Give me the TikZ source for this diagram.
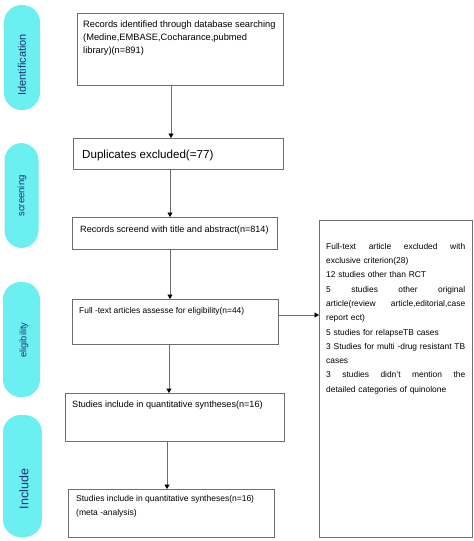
\documentclass[tikz,border=0pt]{standalone}
\usepackage{fontspec}
\setmainfont{Liberation Sans}
\usetikzlibrary{arrows.meta}
\definecolor{pillc}{HTML}{6CEFF0}
\definecolor{pilltxt}{HTML}{1B2F73}
\definecolor{linec}{HTML}{6E6E6E}
\newcommand\jline[1]{\makebox[139pt][s]{\spaceskip=.3em plus 1fil\relax #1}}
\tikzset{
  pill/.style={fill=pillc, draw=none, rounded corners=17.5pt, inner sep=0pt},
  pilllab/.style={text=pilltxt, rotate=90, inner sep=0pt},
  box/.style={draw=linec, line width=0.8pt, fill=white, inner sep=0pt, anchor=north west},
  txt/.style={inner sep=0pt, align=left, text=black},
  arr/.style={draw=linec, line width=0.8pt, -{Triangle[black,length=4.5pt,width=5pt]}}
}
\begin{document}
\begin{tikzpicture}[x=1pt,y=-1pt]
\useasboundingbox (0,0) rectangle (474,541);
% side pills
\node[pill, minimum width=36pt, minimum height=105pt] (p1) at (22,57.5) {};
\node[pilllab, font=\fontsize{11}{11}\selectfont] (l1) at (22,65) {Identification};
\node[pill, minimum width=34pt, minimum height=105pt] (p2) at (21.5,195.5) {};
\node[pilllab, font=\fontsize{9.5}{9.5}\selectfont] (l2) at (22,196) {screening};
\node[pill, minimum width=37pt, minimum height=115pt] (p3) at (21.5,339.5) {};
\node[pilllab, font=\fontsize{9.3}{9.3}\selectfont] (l3) at (24,340) {eligibility};
\node[pill, minimum width=39pt, minimum height=122pt] (p4) at (22.5,476) {};
\node[pilllab, font=\fontsize{12.5}{12.5}\selectfont] (l4) at (24,489) {Include};
% boxes
\node[box, minimum width=206pt, minimum height=72pt] (b1) at (77,13) {};
\node[box, minimum width=210pt, minimum height=31pt] (b2) at (73,138) {};
\node[box, minimum width=205pt, minimum height=32pt] (b3) at (72,217) {};
\node[box, minimum width=206pt, minimum height=45pt] (b4) at (72,299) {};
\node[box, minimum width=153pt, minimum height=317pt] (b5) at (319,220) {};
\node[box, minimum width=219pt, minimum height=48pt] (b6) at (65,393) {};
\node[box, minimum width=206pt, minimum height=48pt] (b7) at (68,489) {};
% texts
\node[txt, anchor=north west, font=\fontsize{9.3}{13}\selectfont] (t1) at (83,20.5)
  {Records identified through database searching\\(Medine,EMBASE,Cocharance,pubmed\\library)(n=891)};
\node[txt, anchor=west, font=\fontsize{11.6}{13}\selectfont] (t2) at (82,155) {Duplicates excluded(=77)};
\node[txt, anchor=west, font=\fontsize{9.1}{13}\selectfont] (t3) at (80,230) {Records screend with title and abstract(n=814)};
\node[txt, anchor=west, font=\fontsize{8.4}{13}\selectfont] (t4) at (79,311) {Full -text articles assesse for eligibility(n=44)};
\node[txt, anchor=west, font=\fontsize{9.1}{13}\selectfont] (t6) at (72,405) {Studies include in quantitative syntheses(n=16)};
\node[txt, anchor=north west, font=\fontsize{8.5}{14}\selectfont] (t7) at (76,495)
  {Studies include in quantitative syntheses(n=16)\\(meta -analysis)};
\node[txt, anchor=north west, text width=139pt, font=\fontsize{8.4}{14.3}\selectfont] (t5) at (326,243)
  {\jline{Full-text article excluded with}\\
   exclusive criterion(28)\\
   12 studies other than RCT\\
   \jline{5 studies other original}\\
   \jline{article(review article,editorial,case}\\
   report ect)\\
   5 studies for relapseTB cases\\
   \jline{3 Studies for multi -drug resistant TB}\\
   cases\\
   \jline{3 studies didn't mention the}\\
   detailed categories of quinolone};
% arrow columns
\coordinate (c1) at (171,0);
\coordinate (c2) at (170,0);
\coordinate (c3) at (170,0);
\coordinate (c4) at (169,0);
\coordinate (c5) at (167,0);
\coordinate (cr) at (0,315);
\draw[arr] (b1.south -| c1) -- (b2.north -| c1);
\draw[arr] (b2.south -| c2) -- (b3.north -| c2);
\draw[arr] (b3.south -| c3) -- (b4.north -| c3);
\draw[arr] (b4.south -| c4) -- (b6.north -| c4);
\draw[arr] (b6.south -| c5) -- (b7.north -| c5);
\draw[arr] (b4.east |- cr) -- (b5.west |- cr);
\end{tikzpicture}
\end{document}
